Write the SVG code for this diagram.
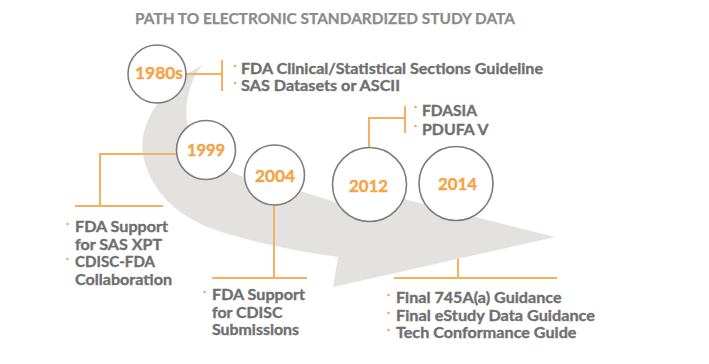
<svg xmlns="http://www.w3.org/2000/svg" width="709" height="364" viewBox="0 0 709 364">
<style>
.title{font-family:Lato,"Open Sans","Liberation Sans",sans-serif;font-weight:700;font-size:14.5px;fill:#8b8b8b;stroke:#8b8b8b;stroke-width:0.25}
.item{font-family:Lato,"Open Sans","Liberation Sans",sans-serif;font-weight:700;font-size:15px;fill:#6f6f70;stroke:#6f6f70;stroke-width:0.35}
.year{font-family:Lato,"Open Sans","Liberation Sans",sans-serif;font-weight:700;font-size:17.5px;fill:#f4a445;stroke:#f4a445;stroke-width:0.4;text-anchor:middle}
.ring{fill:#ffffff;stroke:#7d7d7d;stroke-width:1.6}
.conn{fill:none;stroke:#f5b060;stroke-width:2}
.dot{fill:#f5a94e}
</style>
<rect width="709" height="364" fill="#ffffff"/>
<text class="title" x="135" y="24" textLength="380" lengthAdjust="spacingAndGlyphs">PATH TO ELECTRONIC STANDARDIZED STUDY DATA</text>
<g id="arrow">
<path d="M202,65 C186,85 180,120 195,148 C215,170 260,185 303,192 C320,196 335,203 350,207 L380,193 L555,237 L333,287 L338,257 C300,252 250,242 210,228 C175,214 150,190 143,155 C138,125 160,88 202,65 Z" fill="#e4e2e1"/>
</g>
<g id="connectors">
<path class="conn" d="M186,74 H222 M222,60 V91"/>
<path class="conn" d="M176,154 H100 V206 M75,206 H163"/>
<path class="conn" d="M274,205 V278 M212,278 H307"/>
<path class="conn" d="M369,147 V118 H405 M405,106 V133"/>
<path class="conn" d="M458,259 V278 M394,278 H557"/>
</g>
<g id="node-1980s">
<circle class="ring" cx="157" cy="74" r="29"/>
<text class="year" x="159" y="79" textLength="48" lengthAdjust="spacingAndGlyphs">1980s</text>
</g>
<g id="node-1999">
<circle class="ring" cx="206" cy="150" r="29.5"/>
<text class="year" x="206" y="155.5" textLength="38" lengthAdjust="spacingAndGlyphs">1999</text>
</g>
<g id="node-2004">
<circle class="ring" cx="274.5" cy="175" r="30"/>
<text class="year" x="275" y="181.5" textLength="40" lengthAdjust="spacingAndGlyphs">2004</text>
</g>
<g id="node-2012">
<circle class="ring" cx="369.5" cy="184.5" r="37"/>
<text class="year" x="368.5" y="191.5" textLength="39" lengthAdjust="spacingAndGlyphs">2012</text>
</g>
<g id="node-2014">
<circle class="ring" cx="456" cy="183.5" r="37"/>
<text class="year" x="457.5" y="189.5" textLength="39" lengthAdjust="spacingAndGlyphs">2014</text>
</g>
<g id="notes-1980s">
<circle class="dot" cx="235" cy="66" r="1.3"/>
<circle class="dot" cx="235" cy="83" r="1.3"/>
<text class="item" x="241" y="74" textLength="302" lengthAdjust="spacingAndGlyphs">FDA Clinical/Statistical Sections Guideline</text>
<text class="item" x="241" y="91" textLength="159" lengthAdjust="spacingAndGlyphs">SAS Datasets or ASCII</text>
</g>
<g id="notes-1999">
<circle class="dot" cx="67.5" cy="224" r="1.3"/>
<circle class="dot" cx="67.5" cy="259" r="1.3"/>
<text class="item" x="75" y="232" textLength="93" lengthAdjust="spacingAndGlyphs">FDA Support</text>
<text class="item" x="75" y="249.5" textLength="87" lengthAdjust="spacingAndGlyphs">for SAS XPT</text>
<text class="item" x="75" y="267" textLength="80" lengthAdjust="spacingAndGlyphs">CDISC-FDA</text>
<text class="item" x="75" y="284.5" textLength="97" lengthAdjust="spacingAndGlyphs">Collaboration</text>
</g>
<g id="notes-2004">
<circle class="dot" cx="204.5" cy="292" r="1.3"/>
<text class="item" x="212" y="300" textLength="93" lengthAdjust="spacingAndGlyphs">FDA Support</text>
<text class="item" x="212" y="317.5" textLength="70.5" lengthAdjust="spacingAndGlyphs">for CDISC</text>
<text class="item" x="212" y="335" textLength="87" lengthAdjust="spacingAndGlyphs">Submissions</text>
</g>
<g id="notes-2012">
<circle class="dot" cx="415.5" cy="107" r="1.3"/>
<circle class="dot" cx="415.5" cy="126" r="1.3"/>
<text class="item" x="422" y="115.5" textLength="55" lengthAdjust="spacingAndGlyphs">FDASIA</text>
<text class="item" x="422" y="134.5" textLength="66.5" lengthAdjust="spacingAndGlyphs">PDUFA V</text>
</g>
<g id="notes-2014">
<circle class="dot" cx="388.5" cy="295" r="1.3"/>
<circle class="dot" cx="388.5" cy="313" r="1.3"/>
<circle class="dot" cx="388.5" cy="330" r="1.3"/>
<text class="item" x="396" y="303" textLength="165.5" lengthAdjust="spacingAndGlyphs">Final 745A(a) Guidance</text>
<text class="item" x="396" y="321" textLength="199" lengthAdjust="spacingAndGlyphs">Final eStudy Data Guidance</text>
<text class="item" x="396" y="338" textLength="180.5" lengthAdjust="spacingAndGlyphs">Tech Conformance Guide</text>
</g>
</svg>
